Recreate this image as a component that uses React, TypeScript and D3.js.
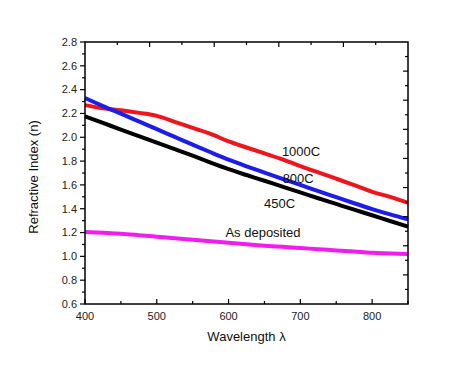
import React from 'react';
import * as d3 from 'd3';

// wavelength grid (nm)
const wl = [400, 425, 450, 475, 500, 525, 550, 575, 600, 625, 650, 675, 700, 725, 750, 775, 800, 825, 850];

const n1000 = [2.27, 2.243, 2.226, 2.205, 2.18, 2.13, 2.078, 2.028, 1.965, 1.914, 1.864, 1.815, 1.757, 1.705, 1.652, 1.598, 1.542, 1.5, 1.45];
const n800 = [2.33, 2.262, 2.198, 2.133, 2.068, 2.003, 1.938, 1.874, 1.812, 1.756, 1.703, 1.651, 1.6, 1.548, 1.497, 1.446, 1.397, 1.352, 1.31];
const n450 = [2.175, 2.12, 2.065, 2.01, 1.955, 1.9, 1.845, 1.787, 1.732, 1.683, 1.635, 1.585, 1.537, 1.488, 1.44, 1.392, 1.345, 1.297, 1.25];
const nAsDep = [1.205, 1.198, 1.19, 1.178, 1.165, 1.152, 1.14, 1.127, 1.115, 1.102, 1.09, 1.08, 1.07, 1.06, 1.05, 1.04, 1.03, 1.025, 1.02];

const series = [
  { name: '1000C', values: n1000, color: '#f0141c' },
  { name: '800C', values: n800, color: '#1c1cf0' },
  { name: '450C', values: n450, color: '#000000' },
  { name: 'As deposited', values: nAsDep, color: '#f01cf0' },
];

const xTicks = [400, 500, 600, 700, 800];
const yTicks = [0.6, 0.8, 1.0, 1.2, 1.4, 1.6, 1.8, 2.0, 2.2, 2.4, 2.6, 2.8];

// label anchors [wavelength, n] (text baseline)
const labels = [
  { text: '1000C', at: [701, 1.843] },
  { text: '800C', at: [697, 1.618] },
  { text: '450C', at: [671, 1.406] },
  { text: 'As deposited', at: [648, 1.165] },
];

const W = 474, H = 365;
const margin = { top: 42, right: 66, bottom: 61, left: 85 };

export default function App() {
  const iw = W - margin.left - margin.right;
  const ih = H - margin.top - margin.bottom;
  const x = d3.scaleLinear().domain([400, 850]).range([0, iw]);
  const y = d3.scaleLinear().domain([0.6, 2.8]).range([ih, 0]);
  // decorative mirror axes of the original have their own spacing
  const xTop = d3.scaleLinear().domain([0, 10]).range([0, iw]);
  const yRight = d3.scaleLinear().domain([0, 9]).range([0, ih]);

  const line = d3.line<number>()
    .x((d, i) => x(wl[i]))
    .y((d) => y(d))
    .curve(d3.curveMonotoneX);

  const yMinor = d3.range(0.6, 2.801, 0.1);
  const xMinor = d3.range(400, 851, 50);
  const font = 'Liberation Sans, Arial, sans-serif';

  return (
    <svg width={W} height={H} style={{ position: 'absolute', left: 0, top: 0 }} fontFamily={font}>
      <rect width={W} height={H} fill="#fff" />
      <g transform={`translate(${margin.left},${margin.top})`}>
        {series.map((s) => (
          <path key={s.name} d={line(s.values) || ''} fill="none" stroke={s.color} strokeWidth={4} strokeLinejoin="round" />
        ))}
        {labels.map((l) => (
          <text key={l.text} x={x(l.at[0])} y={y(l.at[1])} fontSize={13} fill="#111" textAnchor="middle">{l.text}</text>
        ))}
        <rect width={iw} height={ih} fill="none" stroke="#000" strokeWidth={1.5} />
        {/* left axis: outward ticks */}
        {yMinor.map((v, i) => (
          <line key={'ly' + i} x1={0} x2={i % 2 === 0 ? -5 : -3} y1={y(v)} y2={y(v)} stroke="#000" strokeWidth={1.2} />
        ))}
        {yTicks.map((v) => (
          <text key={'yt' + v} x={-8} y={y(v)} dy="0.35em" fontSize={11} textAnchor="end" fill="#222">{v.toFixed(1)}</text>
        ))}
        {/* bottom axis: inward ticks */}
        {xMinor.map((v, i) => (
          <line key={'bx' + i} x1={x(v)} x2={x(v)} y1={ih} y2={ih - (i % 2 === 0 ? 5 : 3)} stroke="#000" strokeWidth={1.2} />
        ))}
        {xTicks.map((v) => (
          <text key={'xt' + v} x={x(v)} y={ih + 16} fontSize={11} textAnchor="middle" fill="#222">{v}</text>
        ))}
        {/* top mirror ticks */}
        {d3.range(1, 10).map((v) => (
          <line key={'tx' + v} x1={xTop(v)} x2={xTop(v)} y1={0} y2={v % 2 === 0 ? 5 : 3} stroke="#000" strokeWidth={1.2} />
        ))}
        {/* right mirror ticks */}
        {d3.range(0.5, 9, 0.5).map((v) => (
          <line key={'ry' + v} x1={iw} x2={iw - (v % 1 === 0 ? 5 : 3)} y1={yRight(v)} y2={yRight(v)} stroke="#000" strokeWidth={1.2} />
        ))}
        <text x={iw / 2} y={ih + 37} fontSize={13} textAnchor="middle" fill="#111">Wavelength λ</text>
        <text transform={`translate(${-47},${ih / 2 + 4}) rotate(-90)`} fontSize={13} textAnchor="middle" fill="#111">Refractive Index (n)</text>
      </g>
    </svg>
  );
}
